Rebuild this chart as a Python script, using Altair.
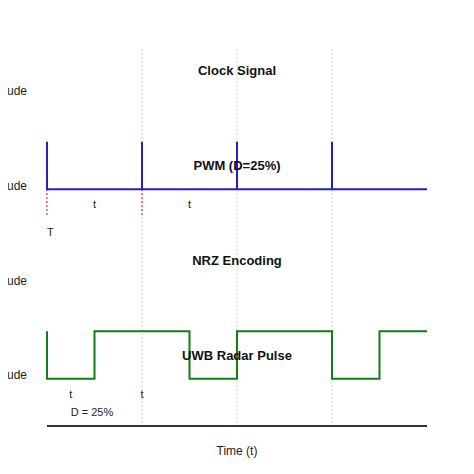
import altair as alt
import pandas as pd

# Signal paths (time, level)
clock_t = [0, 0, 1, 1, 1, 2, 2, 2, 3, 3, 3, 4]
clock_y = [6, 5, 5, 6, 5, 5, 6, 5, 5, 6, 5, 5]

nrz_t = [0, 0, 0.5, 0.5, 1.5, 1.5, 2, 2, 3, 3, 3.5, 3.5, 4]
nrz_y = [2, 1, 1, 2, 2, 1, 1, 2, 2, 1, 1, 2, 2]

grid_t = [1, 2, 3]
marker_t = [0, 1]

titles = ["Clock Signal", "PWM (D=25%)", "NRZ Encoding", "UWB Radar Pulse"]
title_y = [7.49, 5.49, 3.48, 1.48]
amp_y = [7.07, 5.07, 3.06, 1.08]

notes = ["t", "t", "T", "t", "t", "D = 25%"]
note_t = [0.5, 1.5, 0.0, 0.25, 1.0, 0.25]
note_y = [4.66, 4.66, 4.07, 0.65, 0.65, 0.27]
note_align = ["center", "center", "left", "center", "center", "left"]

FONT = "Liberation Sans"
xs = alt.Scale(domain=[0, 4])
ys = alt.Scale(domain=[0, 8])

clock_df = pd.DataFrame({"t": clock_t, "y": clock_y, "o": range(len(clock_t))})
nrz_df = pd.DataFrame({"t": nrz_t, "y": nrz_y, "o": range(len(nrz_t))})
grid_df = pd.DataFrame({"t": grid_t, "y0": [0.06] * 3, "y1": [8] * 3})
mark_df = pd.DataFrame({"t": marker_t, "y0": [5, 5], "y1": [4.43, 4.43]})
title_df = pd.DataFrame({"label": titles, "y": title_y, "t": [2] * 4})
amp_df = pd.DataFrame({"label": ["Amplitude"] * 4, "y": amp_y})
note_df = pd.DataFrame({"label": notes, "t": note_t, "y": note_y, "al": note_align})
base_df = pd.DataFrame({"t0": [0], "t1": [4], "y": [0]})
xt_df = pd.DataFrame({"label": ["Time (t)"], "t": [2], "y": [-0.53]})

X = lambda f="t": alt.X(f"{f}:Q", scale=xs, axis=None)
Y = lambda f="y": alt.Y(f"{f}:Q", scale=ys, axis=None)

grid = alt.Chart(grid_df).mark_rule(color="#cccccc", strokeDash=[2, 2], strokeWidth=1).encode(
    x=X(), y=Y("y0"), y2="y1")

markers = alt.Chart(mark_df).mark_rule(color="red", strokeDash=[2, 2], strokeWidth=1).encode(
    x=X(), y=Y("y0"), y2="y1")

clock = alt.Chart(clock_df).mark_line(color="#1f1fcc", strokeWidth=2).encode(
    x=X(), y=Y(), order="o:Q")

nrz = alt.Chart(nrz_df).mark_line(color="#117f11", strokeWidth=2).encode(
    x=X(), y=Y(), order="o:Q")

baseline = alt.Chart(base_df).mark_rule(color="#333333", strokeWidth=2).encode(
    x=X("t0"), x2="t1", y=Y())

title_txt = alt.Chart(title_df).mark_text(font=FONT, fontSize=13, fontWeight="bold",
                                          color="#111111", baseline="middle").encode(
    x=X(), y=Y(), text="label:N")

amp_txt = alt.Chart(amp_df).mark_text(font=FONT, fontSize=12, color="#222222",
                                      align="right", baseline="middle").encode(
    x=alt.value(-20), y=Y(), text="label:N")

note_left = alt.Chart(note_df[note_df.al == "left"]).mark_text(
    font=FONT, fontSize=11, color="#222222", align="left", baseline="middle").encode(
    x=X(), y=Y(), text="label:N")
note_center = alt.Chart(note_df[note_df.al == "center"]).mark_text(
    font=FONT, fontSize=11, color="#222222", align="center", baseline="middle").encode(
    x=X(), y=Y(), text="label:N")

xt = alt.Chart(xt_df).mark_text(font=FONT, fontSize=12, color="#222222", baseline="middle").encode(
    x=X(), y=Y(), text="label:N")

chart = alt.layer(grid, markers, clock, nrz, baseline, title_txt, amp_txt,
                  note_left, note_center, xt).properties(
    width=380, height=379,
    autosize=alt.AutoSizeParams(type="none"),
    padding={"left": 39, "top": 39, "right": 39, "bottom": 40},
).configure_view(stroke=None)

chart.save("out.html", embed_options={"renderer": "svg", "actions": False})
